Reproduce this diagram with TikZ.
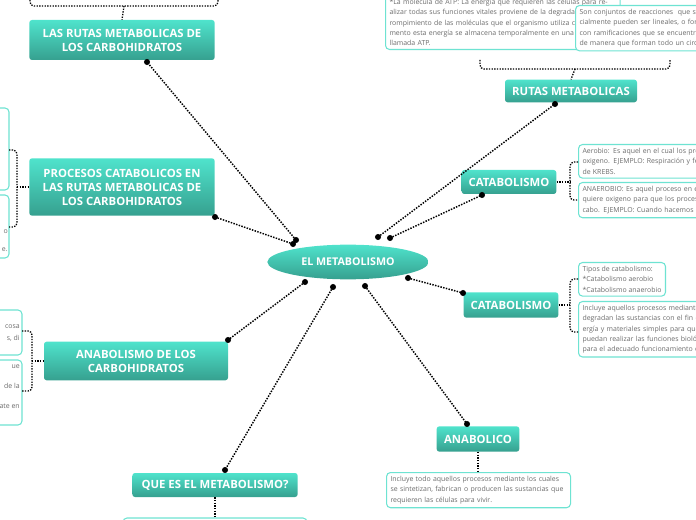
\documentclass[tikz,border=0pt]{standalone}
\usepackage{fontspec}
\setmainfont{Open Sans}
\usetikzlibrary{shapes.geometric}
\begin{document}
\begin{tikzpicture}[x=0.75pt,y=-0.75pt,
 topic/.style={rounded corners=2pt,top color=tealA,bottom color=tealB,draw=none,text=white,font=\bfseries\fontsize{8.5}{10.5}\selectfont,align=center,inner sep=0pt},
 note/.style={draw=tealL,line width=0.8pt,rounded corners=3pt,fill=white,text=gray!85!black,font=\fontsize{5.2}{7.6}\selectfont,align=left,inner sep=3pt,anchor=north west},
 link/.style={densely dotted,line width=1.1pt},
 dotend/.style={circle,fill=black,inner sep=1.6pt},
 br/.style={densely dotted,line width=1pt,rounded corners=3pt}]
\definecolor{tealA}{HTML}{4FE3CC}
\definecolor{tealB}{HTML}{36A08F}
\definecolor{tealL}{HTML}{6EE3D2}
\useasboundingbox (0,0) rectangle (696,520);
% central
\node[ellipse,minimum width=121pt,minimum height=26pt,top color=tealA,bottom color=tealB,text=white,font=\bfseries\fontsize{8}{10}\selectfont] (c) at (348,262) {EL METABOLISMO};
% topics
\node[topic,minimum width=139pt,minimum height=30pt] (lr) at (122,40) {LAS RUTAS METABOLICAS DE\\LOS CARBOHIDRATOS};
\node[topic,minimum width=139pt,minimum height=43pt] (pc) at (122,187) {PROCESOS CATABOLICOS EN\\LAS RUTAS METABOLICAS DE\\LOS CARBOHIDRATOS};
\node[topic,minimum width=138pt,minimum height=29pt] (an) at (136,361) {ANABOLISMO DE LOS\\CARBOHIDRATOS};
\node[topic,minimum width=124pt,minimum height=18pt] (qe) at (215,485) {QUE ES EL METABOLISMO?};
\node[topic,minimum width=62pt,minimum height=19pt] (ab) at (478,439) {ANABOLICO};
\node[topic,minimum width=71pt,minimum height=18pt] (cu) at (509,182) {CATABOLISMO};
\node[topic,minimum width=71pt,minimum height=19pt] (cl) at (511,305) {CATABOLISMO};
\node[topic,minimum width=99pt,minimum height=17pt] (rm) at (571,91) {RUTAS METABOLICAS};
% connectors
\foreach \a/\b/\t in {296/240/lr, 293/244/pc, 305/282/an, 333/287/qe, 365/286/ab, 408/278/cl, 390/238/cu, 378/237/rm}{
  \coordinate (s\t) at (\a,\b);
}
\coordinate (elr) at (147,62); \coordinate (epc) at (215,217); \coordinate (ean) at (228,340);
\coordinate (eqe) at (225,470); \coordinate (eab) at (467,424); \coordinate (ecl) at (463,293);
\coordinate (ecu) at (482,195); \coordinate (erm) at (555,104);
\foreach \t in {lr,pc,an,qe,ab,cl,cu,rm}{
  \draw[link] (s\t) -- (e\t);
  \node[dotend] at (s\t) {}; \node[dotend] at (e\t) {};
}
% notes right
\node[note,text width=170pt] (n1) at (385,-5) {*La molécula de ATP: La energía que requieren las células para realizar todas sus funciones vitales proviene de la degradación o el rompimiento de las moléculas que el organismo utiliza como alimento esta energía se almacena temporalmente en una molécula llamada ATP.};
\node[note,text width=130pt] (n2) at (575,5) {Son conjuntos de reacciones\ \ que se dan secuencialmente pueden ser lineales, o forman un circulo con ramificaciones que se encuentran conectadas de manera que forman todo un circuito metabólico.};
\draw[br] (480,60) -- (480,69) -- (670,69) -- (670,60);
\draw[br] (575,69) -- (rm.north);
\node[note,text width=130pt] (n3) at (578,144) {Aerobio: Es aquel en el cual los procesos requieren oxigeno. EJEMPLO: Respiración y fermentación, ciclo de KREBS.};
\node[note,text width=130pt] (n4) at (578,182) {ANAEROBIO: Es aquel proceso en el cual no se requiere oxigeno para que los procesos se lleven a cabo. EJEMPLO: Cuando hacemos ejercicio.};
\draw[br] (578,162) -- (570,162) -- (570,200) -- (578,200);
\draw[br] (cu.east) -- (570,182);
\node[note] (n5) at (578,262) {Tipos de catabolismo:\\*Catabolismo aerobio\\*Catabolismo anaerobio};
\node[note,text width=130pt] (n6) at (578,301) {Incluye aquellos procesos mediante los cuales se degradan las sustancias con el fin de obtener energía y materiales simples para que las células puedan realizar las funciones biológicas necesarias para el adecuado funcionamiento del organismo.};
\draw[br] (578,279) -- (570,279) -- (570,332) -- (578,332);
\draw[br] (cl.east) -- (570,305);
\node[note,text width=132pt] (n7) at (386,472) {Incluye todo aquellos procesos mediante los cuales se sintetizan, fabrican o producen las sustancias que requieren las células para vivir.};
\draw[br] (ab.south) -- (n7.north -| ab.south);
% top-left bracket
\draw[br] (30,0) -- (30,6) -- (218,6) -- (218,0);
\draw[br] (124,6) -- (lr.north);
% left notes of PROCESOS
\draw[draw=tealL,line width=0.8pt,rounded corners=3pt,fill=white] (-20,108) rectangle (9,190);
\draw[draw=tealL,line width=0.8pt,rounded corners=3pt,fill=white] (-20,195) rectangle (9,258);
\node[font=\fontsize{5.2}{7}\selectfont,text=gray!85!black,anchor=east,inner sep=0] (f1) at (8,232) {o};
\node[font=\fontsize{5.2}{7}\selectfont,text=gray!85!black,anchor=east,inner sep=0] (f2) at (8,250) {e.};
\draw[br] (9,150) -- (17,150) -- (17,227) -- (9,227);
\draw[br] (17,187) -- (pc.west);
% left notes of ANABOLISMO
\draw[draw=tealL,line width=0.8pt,rounded corners=3pt,fill=white] (-20,310) rectangle (22,355);
\draw[draw=tealL,line width=0.8pt,rounded corners=3pt,fill=white] (-20,360) rectangle (22,425);
\node[font=\fontsize{5.2}{7}\selectfont,text=gray!85!black,anchor=east,inner sep=0] (f3) at (20,327) {cosa};
\node[font=\fontsize{5.2}{7}\selectfont,text=gray!85!black,anchor=east,inner sep=0] (f4) at (20,338) {s, di};
\node[font=\fontsize{5.2}{7}\selectfont,text=gray!85!black,anchor=east,inner sep=0] (f5) at (20,367) {ue};
\node[font=\fontsize{5.2}{7}\selectfont,text=gray!85!black,anchor=east,inner sep=0] (f6) at (20,386) {de la};
\node[font=\fontsize{5.2}{7}\selectfont,text=gray!85!black,anchor=east,inner sep=0] (f7) at (20,406) {ate en};
\draw[br] (22,331) -- (32,331) -- (32,391) -- (22,391);
\draw[br] (32,361) -- (an.west);
% bottom box under QUE ES
\draw[draw=tealL,line width=0.8pt,rounded corners=3pt,fill=white] (123,518) rectangle (307,540);
\draw[br] (qe.south) -- (215,518);
\end{tikzpicture}
\end{document}
